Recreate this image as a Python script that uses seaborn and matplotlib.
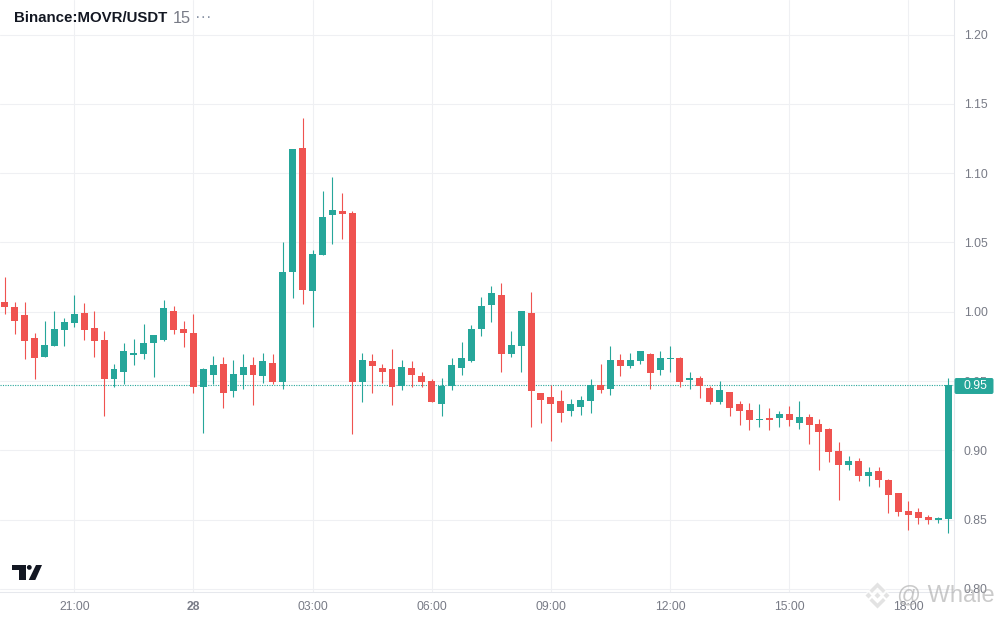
import numpy as np
import pandas as pd
import seaborn as sns
import matplotlib.pyplot as plt
from matplotlib.patches import Polygon, Circle, FancyBboxPatch
from matplotlib.transforms import Affine2D

# 15 min candles
opens = [1.0070, 1.0034, .9976, .9810, .9673, .9753, .9868, .9918, .9991, .9882, .9796, .9514,
         .9565, .9688, .9695, .9774, .9796, 1.0005, .9875, .9846, .9457, .9543, .9623, .9428,
         .9543, .9615, .9536, .9630, .9493, 1.0286, 1.1181, 1.0149, 1.0409, 1.0697, 1.0726, 1.0712,
         .9493, .9645, .9594, .9587, .9464, .9594, .9536, .9500, .9334, .9464, .9594, .9645,
         .9875, 1.0049, 1.0121, .9695, .9753, .9991, .9414, .9385, .9356, .9284, .9313, .9356,
         .9471, .9442, .9652, .9608, .9644, .9695, .9580, .9659, .9666, .9507, .9522, .9450,
         .9349, .9421, .9334, .9291, .9219, .9233, .9233, .9262, .9197, .9240, .9189, .9153,
         .8995, .8894, .8922, .8814, .8850, .8785, .8692, .8562, .8554, .8518, .8497, .8504]
closes = [1.0034, .9933, .9789, .9666, .9760, .9875, .9926, .9983, .9868, .9789, .9514, .9587,
          .9716, .9702, .9774, .9832, 1.0027, .9868, .9846, .9457, .9587, .9615, .9413, .9550,
          .9601, .9543, .9644, .9493, 1.0286, 1.1174, 1.0156, 1.0416, 1.0683, 1.0733, 1.0705, .9493,
          .9652, .9609, .9565, .9457, .9601, .9544, .9493, .9349, .9464, .9616, .9666, .9875,
          1.0041, 1.0135, .9695, .9760, 1.0005, .9428, .9363, .9334, .9269, .9334, .9363, .9471,
          .9435, .9652, .9608, .9652, .9717, .9558, .9666, .9666, .9493, .9522, .9464, .9349,
          .9435, .9305, .9284, .9219, .9226, .9219, .9262, .9219, .9240, .9182, .9132, .8987,
          .8894, .8922, .8814, .8843, .8785, .8677, .8554, .8533, .8511, .8497, .8511, .9471]
highs = [1.0250, 1.0070, 1.0070, .9846, .9933, 1.0005, .9955, 1.0120, 1.0063, 1.0005, .9861, .9623,
         .9774, .9803, .9911, .9832, 1.0084, 1.0041, .9933, .9983, .9594, .9680, .9673, .9651,
         .9695, .9673, .9702, .9695, 1.0503, 1.1174, 1.1397, 1.0445, 1.0871, 1.0972, 1.0856, 1.0726,
         .9702, .9695, .9623, .9731, .9652, .9645, .9565, .9515, .9522, .9666, .9782, .9904,
         1.0106, 1.0186, 1.0207, .9861, 1.0005, 1.0142, .9414, .9471, .9435, .9370, .9392, .9515,
         .9623, .9753, .9695, .9702, .9717, .9702, .9717, .9753, .9673, .9565, .9536, .9464,
         .9500, .9421, .9356, .9341, .9334, .9305, .9284, .9320, .9355, .9262, .9225, .9161,
         .9060, .8959, .8944, .8879, .8879, .8792, .8692, .8634, .8583, .8533, .8518, .9521]
lows = [.9983, .9839, .9659, .9514, .9673, .9753, .9753, .9890, .9796, .9673, .9247, .9457,
        .9478, .9615, .9659, .9529, .9789, .9839, .9745, .9413, .9125, .9478, .9305, .9385,
        .9442, .9327, .9486, .9478, .9442, 1.0099, 1.0055, .9889, 1.0409, 1.0488, 1.0524, .9117,
        .9349, .9414, .9486, .9327, .9435, .9457, .9457, .9349, .9248, .9435, .9544, .9637,
        .9825, .9926, .9565, .9673, .9565, .9168, .9197, .9067, .9204, .9248, .9255, .9269,
        .9414, .9399, .9536, .9594, .9623, .9442, .9543, .9565, .9457, .9442, .9378, .9334,
        .9334, .9248, .9183, .9147, .9168, .9147, .9168, .9176, .9153, .9045, .8857, .8915,
        .8641, .8857, .8778, .8742, .8735, .8547, .8526, .8425, .8468, .8468, .8475, .8403]

price_ticks = [0.80, 0.85, 0.90, 0.95, 1.00, 1.05, 1.10, 1.15, 1.20]
time_ticks = [7, 19, 31, 43, 55, 67, 79, 91]
time_labels = ['21:00', '28', '03:00', '06:00', '09:00', '12:00', '15:00', '18:00']

UP = '#26a69a'
DOWN = '#ef5350'
GRID = '#eff0f3'
TEXT = '#787b86'

sns.set_theme(style='white')
plt.rcParams['font.family'] = ['Liberation Sans', 'DejaVu Sans']

df = pd.DataFrame({'open': opens, 'close': closes, 'high': highs, 'low': lows})
df['pos'] = np.arange(len(df))
df['body'] = (df['close'] - df['open']).abs()
df['base'] = df[['open', 'close']].min(axis=1)
df['up'] = df['close'] >= df['open']

fig = plt.figure(figsize=(10, 6.2), dpi=100)
ax = fig.add_axes([0, 28.3 / 620, 0.954, 591.7 / 620])

ax.set_axisbelow(True)
ax.grid(True, color=GRID, linewidth=0.75)

ax.axhline(closes[-1], color=UP, linewidth=0.8, linestyle=(0, (1, 1.2)), zorder=1.5)

for is_up, colour in [(True, UP), (False, DOWN)]:
    part = df[df['up'] == is_up]
    ax.vlines(part['pos'], part['low'], part['high'], color=colour, linewidth=0.8, zorder=2, snap=True)
    sns.barplot(data=part, x='pos', y='body', bottom=part['base'].values, native_scale=True,
                color=colour, saturation=1, width=0.7, linewidth=0, errorbar=None, ax=ax, zorder=3)

ax.set_xlim(-0.483, 95.6)
ax.set_ylim(0.7980, 1.2249)
ax.set_xticks(time_ticks)
ax.set_xticklabels(time_labels)
ax.set_yticks(price_ticks)
ax.set_yticklabels([f'{v:.2f}' for v in price_ticks], va='center_baseline')
ax.set_xlabel('')
ax.set_ylabel('')
ax.yaxis.tick_right()
ax.tick_params(axis='both', length=0, labelsize=8.7, labelcolor=TEXT)
ax.tick_params(axis='x', pad=6.5)
ax.tick_params(axis='y', pad=7)
ax.get_xticklabels()[1].set_fontweight('bold')

for side in ['top', 'left']:
    ax.spines[side].set_visible(False)
for side in ['right', 'bottom']:
    ax.spines[side].set_color('#e6e8ed')
    ax.spines[side].set_linewidth(0.75)

# pixel coordinates of the picture, y going down
px = Affine2D().scale(1 / 1000, -1 / 620).translate(0, 1) + fig.transFigure

# last price tag
fig.add_artist(FancyBboxPatch((955, 378.5), 38, 15, boxstyle='round,pad=0,rounding_size=1.5',
                              facecolor=UP, edgecolor=UP, linewidth=0.7, transform=px, zorder=5))
fig.text(975.5 / 1000, 1 - 386 / 620, '0.95', color='white', fontsize=8.7, ha='center', va='center', zorder=6)

# header
fig.text(14 / 1000, 1 - 18.5 / 620, 'Binance:MOVR/USDT', color='#131722', fontsize=10.85,
         fontweight='bold', va='center')
fig.text(173 / 1000, 1 - 18.5 / 620, '15', color=TEXT, fontsize=11.8, va='center')
fig.text(195 / 1000, 1 - 18 / 620, '\u00b7\u00b7\u00b7', color='#8a94a6', fontsize=12, va='center')

# tradingview mark
logo = '#131722'
fig.add_artist(Polygon([(12, 565), (26, 565), (26, 580), (19, 580), (19, 570), (12, 570)],
                       closed=True, facecolor=logo, edgecolor='none', transform=px))
fig.add_artist(Circle((29.3, 567.4), 2.4, facecolor=logo, edgecolor='none', transform=px))
fig.add_artist(Polygon([(36, 565), (42, 565), (35.3, 580), (28.7, 580)],
                       closed=True, facecolor=logo, edgecolor='none', transform=px))

# watermark
mark = '#e3e3e3'
cx0, cy0 = 877.5, 595.5
fig.add_artist(Polygon([(cx0 - 14, cy0), (cx0, cy0 - 14), (cx0 + 14, cy0), (cx0, cy0 + 14)], closed=True,
                       facecolor='white', alpha=0.75, edgecolor='none', transform=px, zorder=7))
for cx, cy, r in [(cx0, cy0, 3), (cx0 - 9, cy0, 3), (cx0 + 9, cy0, 3)]:
    fig.add_artist(Polygon([(cx - r, cy), (cx, cy - r), (cx + r, cy), (cx, cy + r)], closed=True,
                           facecolor=mark, edgecolor='none', transform=px, zorder=7))
for s in [-1, 1]:
    fig.add_artist(Polygon([(cx0, cy0 + s * 13), (cx0 + 8, cy0 + s * 5), (cx0 + 5.5, cy0 + s * 2.5),
                            (cx0, cy0 + s * 8), (cx0 - 5.5, cy0 + s * 2.5), (cx0 - 8, cy0 + s * 5)],
                           closed=True, facecolor=mark, edgecolor='none', transform=px, zorder=7))
fig.text(897 / 1000, 1 - 595 / 620, '@ Whale', color='#a8a8a8', alpha=0.6, fontsize=17,
         va='center', zorder=7)

fig.savefig('out.png', dpi=100)
